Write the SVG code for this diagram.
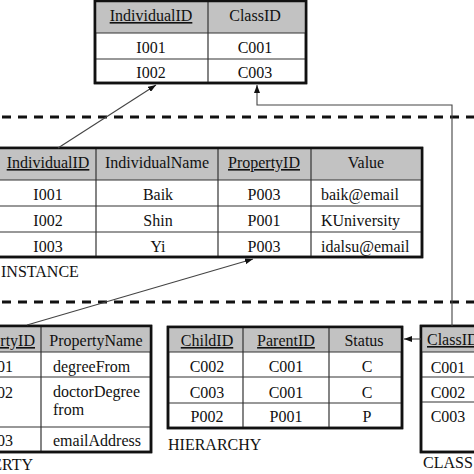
<svg xmlns="http://www.w3.org/2000/svg" width="474" height="474" viewBox="0 0 474 474">
<style>
  text { font-family: "Liberation Serif", "Times New Roman", serif; font-size: 16px; fill: #111; }
  .c { text-anchor: middle; }
  .e { text-anchor: end; }
  .u { text-decoration: underline; }
  .outer { fill: #fff; stroke: #111; stroke-width: 2.5; }
  .head { fill: #c2c2c2; }
  .grid { stroke: #333; stroke-width: 1.2; fill: none; }
  .frame { fill: none; stroke: #111; stroke-width: 2.5; }
  .dash { stroke: #111; stroke-width: 3; stroke-dasharray: 9 7; }
  .conn { stroke: #444; stroke-width: 1.1; fill: none; marker-end: url(#arr); }
</style>
<defs>
  <marker id="arr" markerWidth="8" markerHeight="6" refX="8" refY="3" orient="auto" markerUnits="userSpaceOnUse">
    <path d="M0,0 L8,3 L0,6 z" fill="#111"/>
  </marker>
</defs>
<rect width="474" height="474" fill="#fff"/>

<line class="dash" x1="2" y1="117" x2="474" y2="117"/>
<line class="dash" x1="2" y1="302" x2="474" y2="302"/>

<g id="individual-class">
  <rect class="outer" x="95" y="1" width="211" height="82"/>
  <rect class="head" x="96" y="2" width="209" height="31"/>
  <line class="grid" x1="95" y1="33" x2="306" y2="33"/>
  <line class="grid" x1="95" y1="59" x2="306" y2="59"/>
  <line class="grid" x1="208" y1="1" x2="208" y2="83"/>
  <rect class="frame" x="95" y="1" width="211" height="82"/>
  <text class="c u" x="151" y="21">IndividualID</text>
  <text class="c" x="255" y="21">ClassID</text>
  <text class="c" x="151" y="53">I001</text>
  <text class="c" x="255" y="53">C001</text>
  <text class="c" x="151" y="78">I002</text>
  <text class="c" x="255" y="78">C003</text>
</g>

<g id="instance">
  <rect class="outer" x="-2" y="148" width="424" height="109"/>
  <rect class="head" x="-1" y="149" width="422" height="31"/>
  <line class="grid" x1="-2" y1="180" x2="422" y2="180"/>
  <line class="grid" x1="-2" y1="206" x2="422" y2="206"/>
  <line class="grid" x1="-2" y1="232" x2="422" y2="232"/>
  <line class="grid" x1="96" y1="148" x2="96" y2="257"/>
  <line class="grid" x1="218" y1="148" x2="218" y2="257"/>
  <line class="grid" x1="311" y1="148" x2="311" y2="257"/>
  <rect class="frame" x="-2" y="148" width="424" height="109"/>
  <text class="c u" x="48" y="168">IndividualID</text>
  <text class="c" x="157" y="168">IndividualName</text>
  <text class="c u" x="264" y="168">PropertyID</text>
  <text class="c" x="366" y="168">Value</text>
  <text class="c" x="48" y="200">I001</text>
  <text class="c" x="158" y="200">Baik</text>
  <text class="c" x="264" y="200">P003</text>
  <text x="321" y="200">baik@email</text>
  <text class="c" x="48" y="226">I002</text>
  <text class="c" x="158" y="226">Shin</text>
  <text class="c" x="264" y="226">P001</text>
  <text x="321" y="226">KUniversity</text>
  <text class="c" x="48" y="252">I003</text>
  <text class="c" x="158" y="252">Yi</text>
  <text class="c" x="264" y="252">P003</text>
  <text x="321" y="252">idalsu@email</text>
  <text x="1" y="277">INSTANCE</text>
</g>

<g id="property">
  <rect class="outer" x="-2" y="326" width="153" height="126"/>
  <rect class="head" x="-1" y="327" width="151" height="25"/>
  <line class="grid" x1="-2" y1="352" x2="151" y2="352"/>
  <line class="grid" x1="-2" y1="377" x2="151" y2="377"/>
  <line class="grid" x1="-2" y1="427" x2="151" y2="427"/>
  <line class="grid" x1="41" y1="326" x2="41" y2="452"/>
  <rect class="frame" x="-2" y="326" width="153" height="126"/>
  <text class="e u" x="35" y="346">PropertyID</text>
  <text class="c" x="96" y="346">PropertyName</text>
  <text class="e" x="13" y="372">P001</text>
  <text x="53" y="372">degreeFrom</text>
  <text class="e" x="13" y="398">P002</text>
  <text x="53" y="397">doctorDegree</text>
  <text x="53" y="415">from</text>
  <text class="e" x="13" y="446">P003</text>
  <text x="53" y="446">emailAddress</text>
  <text class="e" x="33" y="470">PROPERTY</text>
</g>

<g id="hierarchy">
  <rect class="outer" x="168" y="327" width="234" height="101"/>
  <rect class="head" x="169" y="328" width="232" height="24"/>
  <line class="grid" x1="168" y1="352" x2="402" y2="352"/>
  <line class="grid" x1="168" y1="377" x2="402" y2="377"/>
  <line class="grid" x1="168" y1="403" x2="402" y2="403"/>
  <line class="grid" x1="243" y1="327" x2="243" y2="428"/>
  <line class="grid" x1="329" y1="327" x2="329" y2="428"/>
  <rect class="frame" x="168" y="327" width="234" height="101"/>
  <text class="c u" x="207" y="346">ChildID</text>
  <text class="c u" x="286" y="346">ParentID</text>
  <text class="c" x="364" y="346">Status</text>
  <text class="c" x="207" y="372">C002</text>
  <text class="c" x="286" y="372">C001</text>
  <text class="c" x="367" y="372">C</text>
  <text class="c" x="207" y="398">C003</text>
  <text class="c" x="286" y="398">C001</text>
  <text class="c" x="367" y="398">C</text>
  <text class="c" x="207" y="422">P002</text>
  <text class="c" x="286" y="422">P001</text>
  <text class="c" x="367" y="422">P</text>
  <text x="168" y="450">HIERARCHY</text>
</g>

<g id="class">
  <rect class="outer" x="421" y="326" width="58" height="126"/>
  <rect class="head" x="422" y="327" width="56" height="25"/>
  <line class="grid" x1="421" y1="352" x2="479" y2="352"/>
  <line class="grid" x1="421" y1="377" x2="479" y2="377"/>
  <line class="grid" x1="421" y1="402" x2="479" y2="402"/>
  <rect class="frame" x="421" y="326" width="58" height="126"/>
  <text class="u" x="427" y="345">ClassID</text>
  <text class="c" x="448" y="373">C001</text>
  <text class="c" x="448" y="398">C002</text>
  <text class="c" x="448" y="422">C003</text>
  <text x="423" y="468">CLASS</text>
</g>

<g id="connectors">
  <line class="conn" x1="58" y1="148" x2="156" y2="85"/>
  <line class="conn" x1="27" y1="325" x2="253" y2="259"/>
  <polyline class="conn" points="452,326 452,105 257,105 257,85"/>
  <line class="conn" x1="421" y1="339" x2="404" y2="339"/>
</g>
</svg>
